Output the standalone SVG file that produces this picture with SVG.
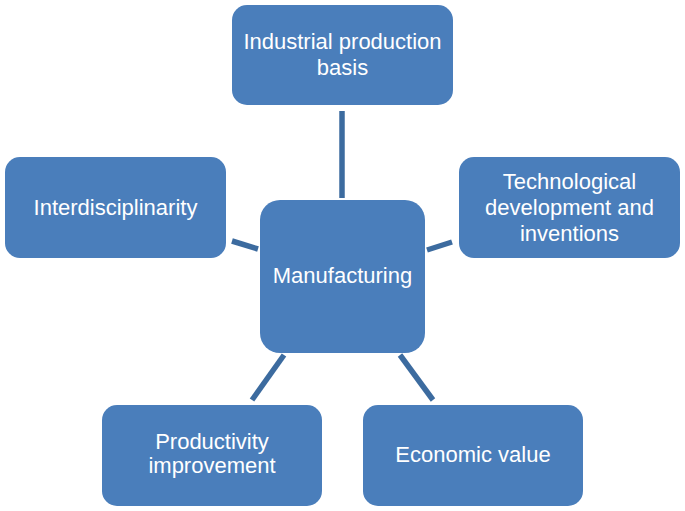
<svg xmlns="http://www.w3.org/2000/svg" width="685" height="511" viewBox="0 0 685 511">
<style>
.box{fill:#4A7EBB;}
.t{fill:#ffffff;font-family:"Liberation Sans",Arial,sans-serif;font-size:22px;text-anchor:middle;}
.c{stroke:#3C6B9F;stroke-width:5.5;fill:none;}
</style>
<rect width="685" height="511" fill="#ffffff"/>
<g id="connectors">
<line class="c" x1="342" y1="111" x2="342" y2="198"/>
<line class="c" x1="232" y1="241" x2="258" y2="249"/>
<line class="c" x1="427" y1="250" x2="452" y2="242"/>
<line class="c" x1="284" y1="355" x2="252" y2="400"/>
<line class="c" x1="400" y1="355" x2="433" y2="400"/>
</g>
<g id="n-industrial">
<rect class="box" x="232" y="5" width="221" height="100" rx="15"/>
<text class="t" x="342.5" y="49">Industrial production</text>
<text class="t" x="342.5" y="75">basis</text>
</g>
<g id="n-interdisciplinarity">
<rect class="box" x="5" y="157" width="221" height="101" rx="15"/>
<text class="t" x="115.5" y="215">Interdisciplinarity</text>
</g>
<g id="n-technological">
<rect class="box" x="459" y="157" width="221" height="101" rx="15"/>
<text class="t" x="569.5" y="189">Technological</text>
<text class="t" x="569.5" y="215">development and</text>
<text class="t" x="569.5" y="241">inventions</text>
</g>
<g id="n-manufacturing">
<rect class="box" x="260" y="200" width="165" height="153" rx="20"/>
<text class="t" x="342.5" y="283">Manufacturing</text>
</g>
<g id="n-productivity">
<rect class="box" x="102" y="405" width="220" height="101" rx="15"/>
<text class="t" x="212" y="449">Productivity</text>
<text class="t" x="212" y="473">improvement</text>
</g>
<g id="n-economic">
<rect class="box" x="363" y="405" width="220" height="101" rx="15"/>
<text class="t" x="473" y="462">Economic value</text>
</g>
</svg>
